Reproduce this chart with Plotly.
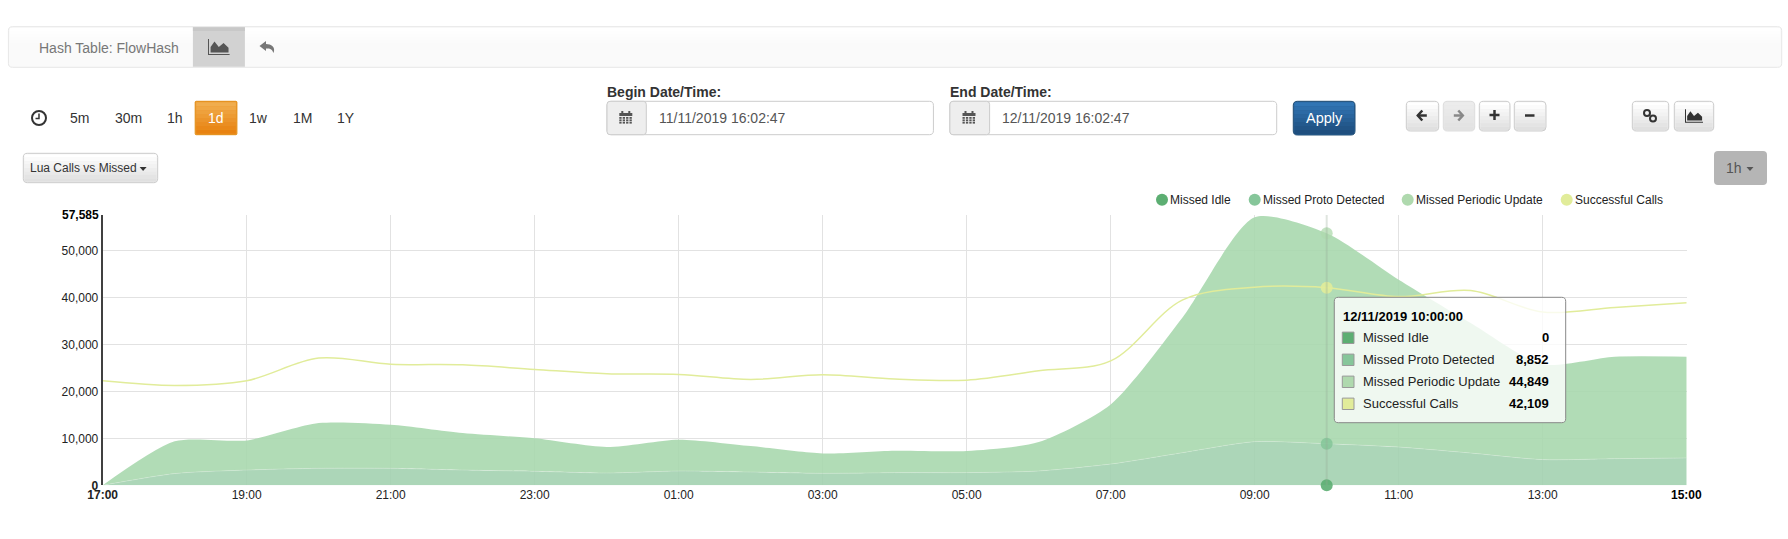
import pandas as pd
from plotly import graph_objects as go

W = 1788
H = 539

hours = pd.date_range("2019-11-11 17:00:00", "2019-11-12 15:00:00", freq="h")
missed_idle = [0] * 23
missed_proto = [0, 2500, 3250, 3620, 3620, 3250, 2980, 2620, 3040, 2830, 2550, 2700,
                2700, 3050, 4530, 6960, 9300, 8852, 8150, 6870, 5470, 5680, 5830]
missed_periodic = [0, 6860, 6320, 9630, 9280, 7880, 7020, 5530, 6680, 5530, 4250, 4680,
                   4600, 6150, 12700, 28840, 47800, 44849, 35650, 27730, 20330, 21720, 21570]
successful_calls = [22280, 21280, 22280, 27100, 25800, 25660, 24680, 23760, 23620, 22550, 23550, 22620,
                    22400, 24400, 26500, 39500, 42200, 42109, 40200, 41500, 36900, 37900, 38900]

y_ticks = [0, 10000, 20000, 30000, 40000, 50000]
y_labels = ["<b>0</b>", "10,000", "20,000", "30,000", "40,000", "50,000"]
y_max = 57585
x_tick_idx = [0, 2, 4, 6, 8, 10, 12, 14, 16, 18, 20]
x_labels = ["<b>17:00</b>", "19:00", "21:00", "23:00", "01:00", "03:00", "05:00", "07:00", "09:00", "11:00", "13:00"]
last_label = "15:00"
hover_idx = 17

names = ["Missed Idle", "Missed Proto Detected", "Missed Periodic Update", "Successful Calls"]
colors = ["#5cae72", "#86c69a", "#afd9ae", "#e1ec9a"]
legend_x = [1162, 1254.7, 1407.7, 1566.7]

SANS = "Liberation Sans"
SMOOTH = 0.7

shapes = []
notes = []


def px(x):
    return x / W


def py(y):
    return 1 - y / H


def text(x, y, s, size=12, color="#333333", anchor="left"):
    notes.append(dict(x=px(x), y=py(y), xref="paper", yref="paper", text=s, showarrow=False,
                      xanchor=anchor, yanchor="middle", borderpad=0, borderwidth=0,
                      font=dict(family=SANS, size=size, color=color)))


def path(d, fill=None, line=None, width=1):
    # d is a list of (command, points in page pixels)
    out = ""
    for cmd, pts in d:
        out += cmd
        out += " ".join(f"{px(a):.5f},{py(b):.5f}" for a, b in pts) + " "
    shp = dict(type="path", xref="paper", yref="paper", path=out,
               line=dict(color=line if line else "rgba(0,0,0,0)", width=width if line else 0))
    if fill:
        shp["fillcolor"] = fill
    shapes.append(shp)


def poly(pts, fill=None, line=None, width=1, close=True):
    d = [("M", [pts[0]])] + [("L", [p]) for p in pts[1:]]
    if close:
        d.append(("Z", []))
    path(d, fill, line, width)


def rounded(x0, y0, x1, y1, r=4, fill=None, line=None):
    d = [("M", [(x0 + r, y0)]), ("L", [(x1 - r, y0)]), ("Q", [(x1, y0), (x1, y0 + r)]),
         ("L", [(x1, y1 - r)]), ("Q", [(x1, y1), (x1 - r, y1)]), ("L", [(x0 + r, y1)]),
         ("Q", [(x0, y1), (x0, y1 - r)]), ("L", [(x0, y0 + r)]), ("Q", [(x0, y0), (x0 + r, y0)]), ("Z", [])]
    path(d, fill, line, 1 if line else 0)


def rect(x0, y0, x1, y1, fill, line=None, width=0):
    shapes.append(dict(type="rect", xref="paper", yref="paper", x0=px(x0), x1=px(x1), y0=py(y0), y1=py(y1),
                       fillcolor=fill, line=dict(color=line if line else "rgba(0,0,0,0)", width=width)))


def circle(cx, cy, r, fill=None, line=None, width=1):
    shapes.append(dict(type="circle", xref="paper", yref="paper", x0=px(cx - r), x1=px(cx + r),
                       y0=py(cy - r), y1=py(cy + r), fillcolor=fill if fill else "rgba(0,0,0,0)",
                       line=dict(color=line if line else "rgba(0,0,0,0)", width=width)))


def mix(a, b, t):
    return "rgb(" + ",".join(str(round(p + (q - p) * t)) for p, q in zip(a, b)) + ")"


def button(x0, y0, x1, y1, top=(255, 255, 255), bottom=(224, 224, 224), border="#cccccc", r=4):
    rounded(x0, y0, x1, y1, r, mix(top, bottom, 0.5))
    n = 8
    step = (y1 - y0 - 2) / n
    for i in range(n):
        rect(x0 + 1, y0 + 1 + i * step, x1 - 1, y0 + 1 + (i + 1) * step, mix(top, bottom, i / (n - 1)))
    rounded(x0, y0, x1, y1, r, None, border)


def caret(x, y, color="#333333"):
    poly([(x - 3.5, y - 2), (x + 3.5, y - 2), (x, y + 2)], color)


def area_icon(x0, y0, x1, y1, color):
    w = x1 - x0
    h = y1 - y0
    poly([(x0, y0), (x0 + 1, y0), (x0 + 1, y1 - 1), (x1, y1 - 1), (x1, y1), (x0, y1)], color)
    poly([(x0 + .12 * w, y1 - .16 * h), (x0 + .12 * w, y0 + .5 * h), (x0 + .3 * w, y0 + .15 * h),
          (x0 + .5 * w, y0 + .5 * h), (x0 + .72 * w, y0 + .25 * h), (x0 + .95 * w, y0 + .55 * h),
          (x0 + .95 * w, y1 - .16 * h)], color)


def calendar(cx, cy):
    poly([(cx - 6.5, cy - 5), (cx + 6.5, cy - 5), (cx + 6.5, cy - 2), (cx - 6.5, cy - 2)], "#555555")
    rect(cx - 4.5, cy - 7, cx - 2.5, cy - 4, "#555555")
    rect(cx + 2.5, cy - 7, cx + 4.5, cy - 4, "#555555")
    for row in range(3):
        for col in range(4):
            rect(cx - 6.5 + col * 3.4, cy - 1 + row * 2.4, cx - 4.2 + col * 3.4, cy + .8 + row * 2.4, "#555555")


# navbar
rounded(8.4, 26.7, 1781.7, 67.3, 4, "#fafafa", "#e7e7e7")
for i in range(6):
    rect(10, 28 + i * 3, 1780, 31 + i * 3, mix((255, 255, 255), (250, 250, 250), i / 5))
text(39.4, 47.5, "Hash Table: FlowHash", 14, "#777777")
rect(192.9, 27.2, 244.9, 66.8, "#d2d2d2")
rect(192.9, 27.2, 244.9, 31, "#c8c8c8")
area_icon(208, 39, 229.6, 55, "#555555")
path([("M", [(259.5, 46)]), ("L", [(266, 41)]), ("L", [(266, 44)]), ("C", [(271, 44), (276, 47), (273.5, 53)]),
      ("C", [(272, 49), (270, 48.5), (266, 48.5)]), ("L", [(266, 51)]), ("Z", [])], "#777777")

# range buttons
circle(39, 118, 7, None, "#333333", 2)
poly([(39, 113.5), (39, 118.5), (35.5, 118.5)], None, "#333333", 1.5, close=False)
for label, cx in zip(["5m", "30m", "1h", "1w", "1M", "1Y"], [79.6, 128.6, 175.3, 258.7, 302.3, 346]):
    text(cx, 118, label, 14, "#333333", "center")
button(195.2, 101.3, 236.9, 134.7, (240, 173, 78), (232, 130, 16), "#e38d13", 1)
text(216, 118, "1d", 14, "#ffffff", "center")

# date inputs
for x0, x1, ax, ix, tx, lab, val in [
    (607, 933.4, 625.8, 646.3, 658.8, "Begin Date/Time:", "11/11/2019 16:02:47"),
    (949.9, 1276.7, 969, 989.6, 1002, "End Date/Time:", "12/11/2019 16:02:47"),
]:
    text(x0, 91.7, f"<b>{lab}</b>", 14, "#333333")
    rounded(x0, 101.3, x1, 134.7, 4, "#ffffff", "#cccccc")
    rounded(x0, 101.3, ix, 134.7, 3, "#eeeeee", "#cccccc")
    calendar(ax, 118)
    text(tx, 118, val, 14, "#555555")

button(1293.3, 101.3, 1355, 135, (49, 117, 180), (30, 78, 126), "#204d74")
text(1324, 118, "Apply", 14.5, "#ffffff", "center")

# pan and zoom buttons
button(1406.3, 101.3, 1438.7, 131)
button(1443.3, 101.3, 1474.7, 131, (236, 236, 236), (226, 226, 226), "#dddddd")
button(1479.3, 101.3, 1510, 131)
button(1514.3, 101.3, 1546, 131)
for cx, sign, col in [(1422.3, -1, "#333333"), (1458.3, 1, "#888888")]:
    poly([(cx - 4.5, 115.5), (cx + 4.5, 115.5)], None, col, 2.5, close=False)
    poly([(cx, 110.5), (cx + 4.5 * sign, 115.5), (cx, 120.5)], None, col, 2.5, close=False)
poly([(1489.5, 115), (1499.5, 115)], None, "#333333", 2.5, close=False)
poly([(1494.5, 110), (1494.5, 120)], None, "#333333", 2.5, close=False)
poly([(1525, 115.5), (1534.5, 115.5)], None, "#333333", 2.5, close=False)

button(1632.3, 101.3, 1668.7, 131)
circle(1647, 113, 3, None, "#333333", 2)
circle(1653, 118.5, 3, None, "#333333", 2)
button(1674.3, 101.3, 1713.7, 131)
area_icon(1685, 109.3, 1703, 122.7, "#333333")

# dropdowns
button(23.3, 153.3, 157.7, 182.7)
text(29.5, 168, "Lua Calls vs Missed", 12, "#333333")
caret(143.1, 169)
rounded(1714, 151, 1767, 185, 4, "#b5b5b5")
text(1734, 168, "1h", 14, "#555555", "center")
caret(1750, 169, "#555555")

# legend
for name, color, cx in zip(names, colors, legend_x):
    circle(cx, 199.7, 6, color)
    text(cx + 8, 199.7, name, 12, "#222222")

fig = go.Figure()
fig.add_trace(go.Scatter(x=hours, y=missed_idle, name=names[0], stackgroup="one", mode="lines",
                         line=dict(width=0, shape="spline", smoothing=SMOOTH), fillcolor="rgba(92,174,114,0.9)"))
fig.add_trace(go.Scatter(x=hours, y=missed_proto, name=names[1], stackgroup="one", mode="lines",
                         line=dict(width=0.5, color="rgba(235,245,235,0.55)", shape="spline", smoothing=SMOOTH),
                         fillcolor="rgba(163,209,176,0.9)"))
fig.add_trace(go.Scatter(x=hours, y=missed_periodic, name=names[2], stackgroup="one", mode="lines",
                         line=dict(width=0, shape="spline", smoothing=SMOOTH), fillcolor="rgba(169,216,174,0.9)"))
fig.add_trace(go.Scatter(x=hours, y=successful_calls, name=names[3], mode="lines",
                         line=dict(width=1.5, color=colors[3], shape="spline", smoothing=0.95)))

# highlighted points of the hovered hour
running = 0
hover_values = [missed_idle[hover_idx], missed_proto[hover_idx], missed_periodic[hover_idx], successful_calls[hover_idx]]
for i, name in enumerate(names):
    running = running + hover_values[i] if i < 3 else hover_values[i]
    fig.add_trace(go.Scatter(x=[hours[hover_idx]], y=[running], mode="markers", showlegend=False, cliponaxis=False,
                             marker=dict(size=12, color=colors[i], opacity=0.9 if i != 2 else 0.75, line=dict(width=0))))

shapes.append(dict(type="line", xref="x", yref="paper", x0=hours[hover_idx], x1=hours[hover_idx],
                   y0=py(485.3), y1=py(215), line=dict(color="rgba(150,170,150,0.3)", width=2)))

# tooltip
rounded(1334.3, 297.3, 1565.7, 422.7, 4, "rgba(255,255,255,0.8)", "#888888")
text(1342.5, 316, "<b>12/11/2019 10:00:00</b>", 13, "#000000")
for i, name in enumerate(names):
    cy = 337.8 + i * 22
    rect(1342.3, cy - 5.7, 1354, cy + 5.7, colors[i], "#999999", 1)
    text(1363.3, cy, name, 13, "#222222")
    text(1548.7, cy, f"<b>{hover_values[i]:,}</b>", 13, "#000000", "right")

# axis end labels carry no grid line in the original
notes.append(dict(x=px(99.5), y=y_max, xref="paper", yref="y", text=f"<b>{y_max:,}</b>", showarrow=False,
                  xanchor="right", yanchor="middle", borderpad=0, font=dict(family=SANS, size=12, color="#000000")))
notes.append(dict(x=hours[-1], y=py(494.7), xref="x", yref="paper", text=f"<b>{last_label}</b>", showarrow=False,
                  xanchor="center", yanchor="middle", borderpad=0, font=dict(family=SANS, size=12, color="#000000")))

fig.update_layout(
    width=W, height=H, margin=dict(l=0, r=0, t=0, b=0), autosize=False,
    paper_bgcolor="#ffffff", plot_bgcolor="#ffffff", showlegend=False,
    font=dict(family=SANS, size=12, color="#222222"),
    shapes=shapes, annotations=notes,
)
fig.update_xaxes(domain=[px(102.7), px(1686.7)], range=[hours[0], hours[-1]], type="date", automargin=False,
                 tickmode="array", tickvals=[hours[i] for i in x_tick_idx], ticktext=x_labels,
                 showgrid=True, gridcolor="#e2e2e2", gridwidth=1, zeroline=False, showline=False,
                 ticks="", ticklabelstandoff=1, tickfont=dict(family=SANS, size=12, color="#222222"))
fig.update_yaxes(domain=[py(485.3), py(215)], range=[0, y_max], tickmode="array", automargin=False,
                 tickvals=y_ticks, ticktext=y_labels, showgrid=True, gridcolor="#e2e2e2", gridwidth=1,
                 zeroline=False, showline=True, linecolor="#404040", linewidth=2, ticks="",
                 tickfont=dict(family=SANS, size=12, color="#222222"))

fig.write_html("out.html", config={"displayModeBar": False},
               post_script="document.body.style.margin='0';document.body.style.overflow='hidden';")
